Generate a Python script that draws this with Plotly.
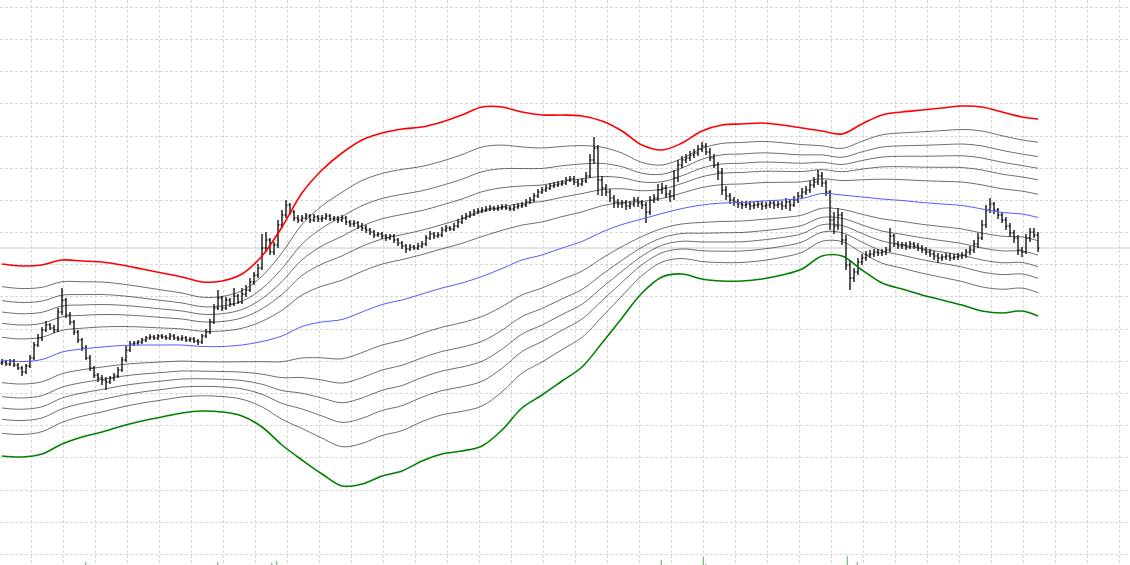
import plotly.graph_objects as go

# ---- price bars (bar index, arbitrary price units) ----
opens = [237, 238, 236, 239, 235, 232, 228, 234, 242, 255,
         262, 270, 275, 272, 270, 288, 300, 285, 278, 268,
         260, 252, 242, 232, 225, 222, 220, 218, 222, 224,
         230, 240, 250, 256, 257, 258, 260, 262, 263, 262,
         264, 263, 262, 264, 262, 261, 262, 260, 261, 259,
         258, 264, 268, 278, 292, 302, 292, 300, 296, 304,
         298, 306, 310, 318, 325, 332, 352, 360, 348, 355,
         375, 385, 395, 388, 382, 380, 382, 384, 380, 383,
         381, 382, 384, 381, 382, 380, 382, 378, 376, 377,
         374, 372, 370, 368, 365, 366, 364, 362, 364, 360,
         357, 354, 351, 353, 352, 354, 356, 362, 366, 364,
         365, 370, 372, 371, 374, 378, 382, 384, 386, 388,
         389, 390, 391, 392, 391, 392, 393, 392, 391, 393,
         394, 395, 398, 400, 404, 408, 410, 412, 414, 415,
         416, 417, 420, 421, 418, 416, 419, 424, 440, 452,
         420, 412, 408, 402, 398, 396, 397, 394, 396, 400,
         397, 395, 388, 400, 402, 410, 412, 406, 404, 422,
         435, 440, 442, 445, 447, 451, 454, 448, 442, 435,
         428, 410, 404, 400, 398, 396, 395, 396, 394, 395,
         396, 394, 395, 397, 395, 396, 394, 398, 395, 400,
         404, 408, 410, 415, 418, 424, 417, 408, 380, 374,
         385, 360, 335, 322, 328, 338, 342, 345, 346, 348,
         347, 348, 350, 364, 356, 354, 355, 353, 356, 354,
         352, 350, 348, 346, 344, 342, 343, 344, 342, 343,
         344, 345, 348, 350, 356, 362, 375, 390, 396, 390,
         385, 380, 374, 367, 362, 350, 348, 362, 368, 365]
highs = [241, 240, 241, 241, 237, 234, 236, 245, 258, 266,
         273, 279, 277, 275, 292, 312, 302, 288, 280, 270,
         262, 255, 245, 234, 227, 225, 223, 224, 227, 233,
         243, 254, 259, 259, 260, 262, 264, 266, 265, 266,
         266, 265, 267, 266, 264, 265, 264, 263, 263, 261,
         266, 271, 281, 296, 310, 304, 303, 302, 312, 306,
         312, 315, 322, 328, 336, 366, 368, 362, 358, 380,
         390, 400, 397, 390, 385, 385, 387, 386, 386, 385,
         385, 387, 386, 384, 384, 385, 384, 380, 380, 379,
         377, 375, 372, 370, 368, 368, 366, 366, 366, 362,
         359, 356, 356, 355, 357, 359, 365, 369, 368, 368,
         373, 375, 374, 377, 381, 385, 387, 389, 391, 392,
         393, 394, 395, 394, 395, 396, 396, 394, 396, 397,
         398, 401, 403, 407, 411, 413, 415, 417, 418, 419,
         420, 423, 424, 424, 421, 422, 428, 446, 463, 455,
         424, 416, 411, 405, 401, 400, 400, 399, 403, 403,
         400, 398, 404, 406, 416, 417, 415, 410, 430, 440,
         444, 446, 449, 451, 455, 458, 457, 452, 446, 438,
         432, 414, 407, 403, 401, 399, 399, 399, 398, 399,
         399, 398, 400, 400, 399, 399, 402, 401, 404, 408,
         412, 414, 419, 423, 430, 428, 420, 410, 388, 392,
         388, 365, 340, 332, 342, 346, 349, 350, 351, 351,
         351, 353, 372, 366, 359, 358, 358, 359, 358, 357,
         355, 353, 351, 349, 347, 346, 347, 347, 346, 347,
         348, 351, 354, 360, 367, 380, 395, 402, 398, 392,
         388, 383, 377, 370, 365, 353, 366, 372, 372, 368]
lows = [235, 234, 234, 233, 230, 224, 226, 232, 240, 253,
        259, 268, 270, 267, 268, 285, 282, 275, 265, 257,
        249, 240, 229, 222, 218, 215, 210, 216, 219, 222,
        228, 238, 248, 254, 255, 256, 258, 260, 260, 260,
        261, 260, 260, 260, 259, 259, 258, 258, 257, 255,
        256, 262, 266, 276, 290, 289, 290, 293, 294, 296,
        296, 303, 308, 315, 322, 330, 348, 345, 345, 352,
        372, 382, 385, 379, 377, 378, 380, 377, 378, 378,
        378, 380, 379, 379, 377, 378, 375, 373, 373, 371,
        369, 367, 365, 362, 363, 361, 359, 360, 357, 354,
        351, 347, 349, 350, 350, 352, 354, 360, 361, 362,
        363, 368, 369, 369, 372, 376, 380, 382, 384, 386,
        387, 388, 389, 389, 389, 390, 390, 389, 389, 391,
        392, 393, 396, 398, 402, 406, 408, 410, 412, 413,
        414, 415, 418, 415, 413, 414, 417, 422, 436, 405,
        404, 404, 398, 392, 392, 392, 390, 391, 393, 393,
        391, 377, 385, 397, 399, 406, 402, 398, 400, 418,
        432, 437, 439, 442, 444, 448, 445, 439, 432, 420,
        405, 400, 396, 394, 392, 391, 392, 390, 391, 392,
        390, 391, 392, 391, 392, 390, 391, 389, 393, 397,
        401, 405, 407, 412, 415, 413, 404, 370, 366, 370,
        355, 330, 310, 318, 325, 335, 339, 342, 343, 344,
        344, 345, 348, 353, 351, 351, 350, 351, 351, 349,
        347, 345, 343, 340, 337, 339, 340, 339, 340, 340,
        341, 342, 345, 347, 352, 360, 372, 387, 386, 381,
        377, 370, 363, 357, 345, 343, 346, 358, 362, 348]
closes = [238, 236, 239, 235, 232, 228, 234, 242, 255, 262,
          270, 275, 272, 270, 288, 300, 285, 278, 268, 260,
          252, 242, 232, 225, 222, 220, 218, 222, 224, 230,
          240, 250, 256, 257, 258, 260, 262, 263, 262, 264,
          263, 262, 264, 262, 261, 262, 260, 261, 259, 258,
          264, 268, 278, 292, 302, 292, 300, 296, 304, 298,
          306, 310, 318, 325, 332, 352, 360, 348, 355, 375,
          385, 395, 388, 382, 380, 382, 384, 380, 383, 381,
          382, 384, 381, 382, 380, 382, 378, 376, 377, 374,
          372, 370, 368, 365, 366, 364, 362, 364, 360, 357,
          354, 351, 353, 352, 354, 356, 362, 366, 364, 365,
          370, 372, 371, 374, 378, 382, 384, 386, 388, 389,
          390, 391, 392, 391, 392, 393, 392, 391, 393, 394,
          395, 398, 400, 404, 408, 410, 412, 414, 415, 416,
          417, 420, 421, 418, 416, 419, 424, 440, 452, 420,
          412, 408, 402, 398, 396, 397, 394, 396, 400, 397,
          395, 388, 400, 402, 410, 412, 406, 404, 422, 435,
          440, 442, 445, 447, 451, 454, 448, 442, 435, 428,
          410, 404, 400, 398, 396, 395, 396, 394, 395, 396,
          394, 395, 397, 395, 396, 394, 398, 395, 400, 404,
          408, 410, 415, 418, 424, 417, 408, 380, 374, 385,
          360, 335, 322, 328, 338, 342, 345, 346, 348, 347,
          348, 350, 364, 356, 354, 355, 353, 356, 354, 352,
          350, 348, 346, 344, 342, 343, 344, 342, 343, 344,
          345, 348, 350, 356, 362, 375, 390, 396, 390, 385,
          380, 374, 367, 362, 350, 348, 362, 368, 365, 352]

# ---- envelope (upper / lower band, read every 5 bars) ----
env_idx = [0, 5, 10, 15, 20, 25, 30, 35, 40, 45, 50, 55, 60, 65, 70, 75, 80, 85,
           90, 95, 100, 105, 110, 115, 120, 125, 130, 135, 140, 145, 150, 155,
           160, 165, 170, 175, 180, 185, 190, 195, 200, 205, 210, 215, 220, 225,
           230, 235, 240, 245, 250, 255, 259]
upper_band = [336, 334, 335, 340, 339, 338, 335, 331, 327, 323, 318, 319, 326, 344,
              373, 407, 430, 447, 460, 467, 471, 473, 478, 485, 493, 493, 488, 485,
              485, 484, 479, 469, 455, 450, 457, 469, 475, 476, 477, 475, 472, 469,
              466, 476, 485, 488, 490, 492, 494, 493, 488, 483, 481]
lower_band = [144, 143, 146, 156, 163, 168, 174, 179, 183, 187, 189, 188, 184, 173,
              155, 140, 126, 114, 116, 124, 129, 139, 146, 149, 154, 170, 192, 205,
              219, 233, 257, 282, 307, 323, 326, 321, 319, 319, 321, 325, 331, 344,
              344, 330, 317, 311, 305, 300, 295, 289, 287, 289, 284]
fib_levels = [0.236, 0.382, 0.5, 0.618, 0.764]

# ---- small green volume-like marks at the bottom ----
mark_idx = [20.93, 53.93, 67.43, 68.68, 164.83, 175.33, 175.93, 211.33, 213.83]
mark_val = [3, 3, 2, 4, 5, 8, 1, 9, 3]

idx = list(range(len(closes)))
mid = [(u + l) / 2 for u, l in zip(upper_band, lower_band)]
half = [(u - l) / 2 for u, l in zip(upper_band, lower_band)]

fig = go.Figure()

for f in fib_levels:
    for sgn in (1, -1):
        fig.add_trace(go.Scatter(
            x=env_idx, y=[m + sgn * f * h for m, h in zip(mid, half)],
            mode="lines", line=dict(color="rgba(30,30,30,0.8)", width=0.8,
                                    shape="spline", smoothing=1),
            hoverinfo="skip"))

fig.add_trace(go.Scatter(x=env_idx, y=mid, mode="lines",
                         line=dict(color="rgb(90,90,255)", width=1, shape="spline", smoothing=1)))
fig.add_trace(go.Scatter(x=env_idx, y=upper_band, mode="lines",
                         line=dict(color="rgb(255,0,0)", width=1.6, shape="spline", smoothing=1)))
fig.add_trace(go.Scatter(x=env_idx, y=lower_band, mode="lines",
                         line=dict(color="rgb(0,128,0)", width=1.6, shape="spline", smoothing=1)))

fig.add_trace(go.Ohlc(x=idx, open=opens, high=highs, low=lows, close=closes,
                      increasing=dict(line=dict(color="rgb(20,20,20)", width=1.4)),
                      decreasing=dict(line=dict(color="rgb(20,20,20)", width=1.4)),
                      tickwidth=0.35))

fig.add_trace(go.Bar(x=mark_idx, y=mark_val, width=0.35, yaxis="y2",
                     marker=dict(color="rgba(60,150,60,0.6)", line=dict(width=0))))

fig.add_shape(type="line", xref="paper", x0=0, x1=1, yref="y",
              y0=closes[-1], y1=closes[-1], line=dict(color="rgb(200,200,200)", width=1),
              layer="below")

fig.update_layout(
    width=1130, height=565,
    margin=dict(l=0, r=0, t=0, b=0),
    paper_bgcolor="white", plot_bgcolor="white",
    showlegend=False,
    xaxis=dict(range=[-0.5, 282], showticklabels=False, ticks="", zeroline=False,
               showgrid=True, gridcolor="rgb(215,215,215)", griddash="3px,2px",
               tick0=7.425, dtick=8, rangeslider=dict(visible=False), showline=False),
    yaxis=dict(range=[35, 600], showticklabels=False, ticks="", zeroline=False,
               showgrid=True, gridcolor="rgb(215,215,215)", griddash="3px,2px",
               tick0=592.7, dtick=32.18, showline=False),
    yaxis2=dict(range=[0, 565], overlaying="y", visible=False),
)

fig.write_html("out.html", config={"displayModeBar": False},
               post_script="document.body.style.margin='0';document.body.style.overflow='hidden';")
